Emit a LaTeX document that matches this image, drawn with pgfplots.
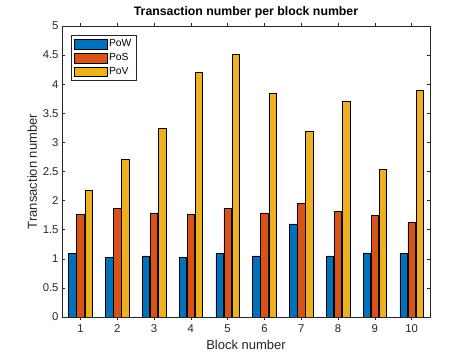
\documentclass[border=0pt]{standalone}
\usepackage{pgfplots}
\pgfplotsset{compat=1.18}
\usepackage{fontspec}
\setmainfont{Liberation Sans}
\definecolor{mblue}{rgb}{0,0.447,0.741}
\definecolor{mred}{rgb}{0.85,0.325,0.098}
\definecolor{myel}{rgb}{0.929,0.694,0.125}
\definecolor{mgray}{rgb}{0.15,0.15,0.15}
\begin{document}
\begin{tikzpicture}
\begin{axis}[
  name=ax,
  scale only axis,
  width=368pt, height=291pt,
  xmin=0.5, xmax=10.5, ymin=0, ymax=5,
  xtick={1,...,10},
  ytick={0,0.5,...,5},
  yticklabels={0,0.5,1,1.5,2,2.5,3,3.5,4,4.5,5},
  tick align=inside,
  major tick length=3.5pt,
  axis line style={mgray, line width=0.6pt},
  every tick/.style={mgray, line width=0.5pt},
  tick label style={font=\fontsize{11.3}{13}\selectfont, text=mgray},
  xticklabel style={yshift=-1pt},
  /pgf/number format/assume math mode=true,
  xlabel={Block number},
  ylabel={Transaction number},
  label style={font=\fontsize{13}{15}\selectfont, text=mgray},
  xlabel style={yshift=0pt},
  ylabel style={yshift=-1pt},
  title={Transaction number per block number},
  title style={font=\bfseries\fontsize{12.3}{14}\selectfont, yshift=-2pt},
  ybar, bar width=0.2,
  legend style={at={(0.024,0.969)}, anchor=north west, draw=mgray, line width=0.5pt,
    font=\fontsize{10.3}{12}\selectfont, row sep=1.3pt, inner sep=2.5pt,
    /tikz/every even column/.append style={column sep=1pt}},
  legend cell align=left,
  legend image code/.code={\draw[#1, draw=black, line width=0.5pt] (0pt,-4.8pt) rectangle (33pt,4.8pt);},
]
\addplot[fill=mblue, draw=black, line width=0.5pt, bar shift=-0.22] coordinates {
(1,1.09) (2,1.03) (3,1.05) (4,1.03) (5,1.09) (6,1.05) (7,1.60) (8,1.05) (9,1.10) (10,1.09)};
\addplot[fill=mred, draw=black, line width=0.5pt, bar shift=0] coordinates {
(1,1.76) (2,1.86) (3,1.79) (4,1.76) (5,1.86) (6,1.79) (7,1.95) (8,1.82) (9,1.75) (10,1.63)};
\addplot[fill=myel, draw=black, line width=0.5pt, bar shift=0.22] coordinates {
(1,2.18) (2,2.71) (3,3.24) (4,4.20) (5,4.51) (6,3.84) (7,3.20) (8,3.70) (9,2.54) (10,3.90)};
\legend{PoW,PoS,PoV}
\end{axis}
\useasboundingbox ([shift={(-62pt,-38pt)}]ax.south west) rectangle ([shift={(44pt,26pt)}]ax.north east);
\end{tikzpicture}
\end{document}
